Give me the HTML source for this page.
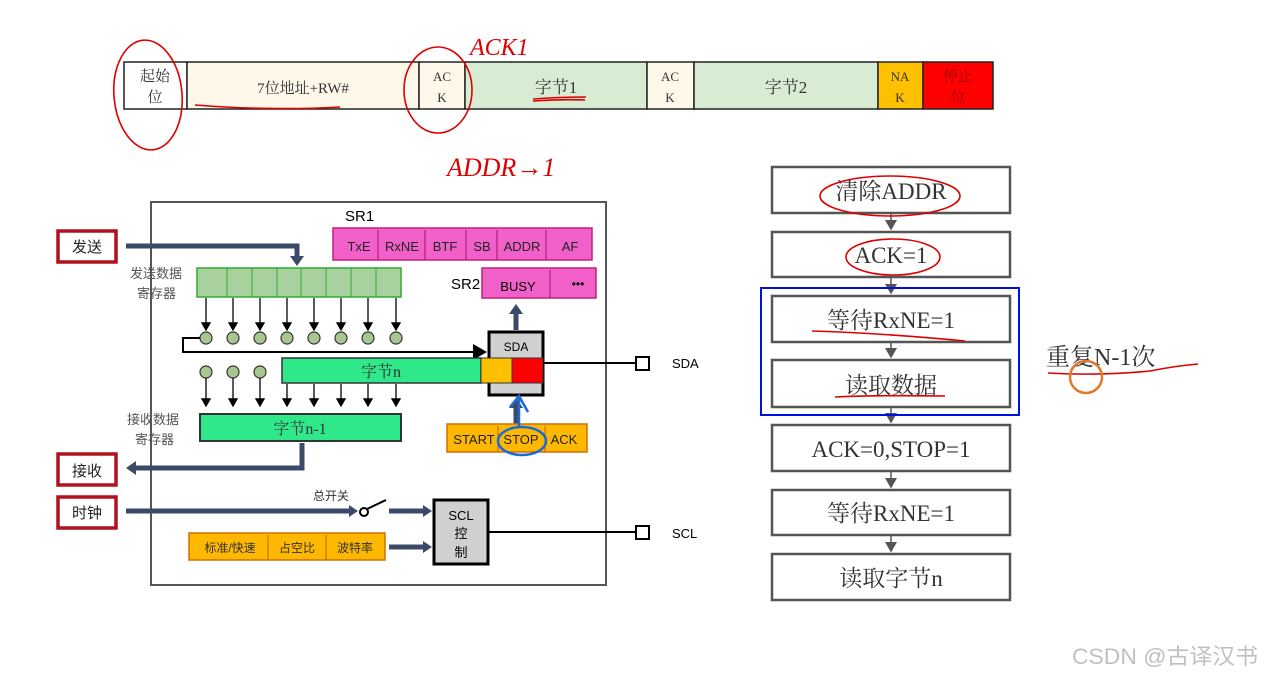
<!DOCTYPE html>
<html><head><meta charset="utf-8"><style>
html,body{margin:0;padding:0;background:#fff;}
svg{display:block}
text{font-family:"Liberation Serif","Noto Serif CJK SC",serif;}
.s, .s text, text.s{font-family:"Liberation Sans","Noto Sans CJK SC",sans-serif;}
</style></head><body>
<svg width="1264" height="676" viewBox="0 0 1264 676" xmlns="http://www.w3.org/2000/svg">
<defs>
<marker id="ab" markerWidth="8" markerHeight="8" refX="6" refY="4" orient="auto"><path d="M0,0 L7,4 L0,8z" fill="#000"/></marker>
<marker id="ag" markerWidth="8" markerHeight="8" refX="6" refY="4" orient="auto"><path d="M0,0 L7,4 L0,8z" fill="#555"/></marker>
</defs>
<g stroke="#222" stroke-width="1.5">
<rect x="124" y="62" width="63" height="47" fill="#fff"/>
<rect x="187" y="62" width="232" height="47" fill="#fdf8ea"/>
<rect x="419" y="62" width="46" height="47" fill="#fdf8ea"/>
<rect x="465" y="62" width="182" height="47" fill="#d8ebd3"/>
<rect x="647" y="62" width="47" height="47" fill="#fdf8ea"/>
<rect x="694" y="62" width="184" height="47" fill="#d8ebd3"/>
<rect x="878" y="62" width="45" height="47" fill="#ffc000"/>
<rect x="923" y="62" width="70" height="47" fill="#f00"/>
</g>
<g font-size="15" fill="#333" text-anchor="middle">
<text x="155" y="81">起始</text><text x="155" y="102">位</text>
<text x="303" y="93">7位地址+RW#</text>
<text x="442" y="81" font-size="13">AC</text><text x="442" y="102" font-size="13">K</text>
<text x="556" y="93" font-size="17">字节1</text>
<text x="670" y="81" font-size="13">AC</text><text x="670" y="102" font-size="13">K</text>
<text x="786" y="93" font-size="17">字节2</text>
<text x="900" y="81" font-size="13">NA</text><text x="900" y="102" font-size="13">K</text>
<text x="958" y="81" fill="#900">停止</text><text x="958" y="102" fill="#900">位</text>
</g>
<g fill="none" stroke="#d00" stroke-width="1.6">
<ellipse cx="148" cy="95" rx="34" ry="55" transform="rotate(-5 148 95)"/>
<ellipse cx="438" cy="90" rx="34" ry="43"/>
<path d="M195 105 Q270 111 340 107"/>
<path d="M533 99 Q560 97 586 97 M533 101 Q560 99 585 100"/>
</g>
<text x="470" y="55" font-size="24" fill="#d00" font-family="Liberation Sans,sans-serif" style="font-style:italic">ACK1</text>
<text x="447" y="176" font-size="26" fill="#d00" font-family="Liberation Sans,sans-serif" style="font-style:italic">ADDR→1</text>

<rect x="151" y="202" width="455" height="383" fill="none" stroke="#555" stroke-width="2"/>
<g stroke="#b01020" stroke-width="3.5" fill="#fff">
<rect x="58" y="231" width="58" height="31"/>
<rect x="58" y="454" width="58" height="31"/>
<rect x="58" y="497" width="58" height="31"/>
</g>
<g font-size="15" fill="#222" text-anchor="middle" class="s">
<text x="87" y="252">发送</text><text x="87" y="476">接收</text><text x="87" y="518">时钟</text>
</g>
<path d="M126 246 H297 V258" fill="none" stroke="#3a4a68" stroke-width="5"/>
<path d="M290 256 L297 266 L304 256z" fill="#3a4a68"/>
<text x="130" y="278" font-size="13" fill="#555" class="s">发送数据</text>
<text x="137" y="298" font-size="13" fill="#555" class="s">寄存器</text>
<rect x="197" y="268" width="204" height="29" fill="#a8d19e" stroke="#3a3" stroke-width="1.5"/>
<g stroke="#3a3" stroke-width="1"><line x1="227" y1="268" x2="227" y2="297"/><line x1="252" y1="268" x2="252" y2="297"/><line x1="277" y1="268" x2="277" y2="297"/><line x1="301" y1="268" x2="301" y2="297"/><line x1="326" y1="268" x2="326" y2="297"/><line x1="351" y1="268" x2="351" y2="297"/><line x1="376" y1="268" x2="376" y2="297"/></g>
<g stroke="#000" stroke-width="1.3" marker-end="url(#ab)">
<line x1="206" y1="298" x2="206" y2="330"/><line x1="233" y1="298" x2="233" y2="330"/><line x1="260" y1="298" x2="260" y2="330"/><line x1="287" y1="298" x2="287" y2="330"/><line x1="314" y1="298" x2="314" y2="330"/><line x1="341" y1="298" x2="341" y2="330"/><line x1="368" y1="298" x2="368" y2="330"/><line x1="396" y1="298" x2="396" y2="330"/>
</g>
<g fill="#a8c790" stroke="#333" stroke-width="1.2">
<circle cx="206" cy="338" r="6"/><circle cx="233" cy="338" r="6"/><circle cx="260" cy="338" r="6"/><circle cx="287" cy="338" r="6"/><circle cx="314" cy="338" r="6"/><circle cx="341" cy="338" r="6"/><circle cx="368" cy="338" r="6"/><circle cx="396" cy="338" r="6"/>
<circle cx="206" cy="372" r="6"/><circle cx="233" cy="372" r="6"/><circle cx="260" cy="372" r="6"/>
</g>
<path d="M200 338 H183 V352 H485" fill="none" stroke="#000" stroke-width="2" marker-end="url(#ab)"/>
<rect x="489" y="332" width="54" height="63" fill="#d0d0d0" stroke="#000" stroke-width="3"/>
<text x="516" y="351" font-size="12" text-anchor="middle" class="s">SDA</text>
<rect x="282" y="358" width="199" height="25" fill="#2ee88a" stroke="#333" stroke-width="1.5"/>
<rect x="481" y="358" width="31" height="25" fill="#ffc000" stroke="#333"/>
<rect x="512" y="358" width="31" height="25" fill="#f00" stroke="#333"/>
<text x="381" y="377" font-size="16" text-anchor="middle" fill="#333">字节n</text>
<g stroke="#000" stroke-width="1.3" marker-end="url(#ab)">
<line x1="206" y1="378" x2="206" y2="406"/><line x1="233" y1="378" x2="233" y2="406"/><line x1="260" y1="378" x2="260" y2="406"/><line x1="287" y1="384" x2="287" y2="406"/><line x1="314" y1="384" x2="314" y2="406"/><line x1="341" y1="384" x2="341" y2="406"/><line x1="368" y1="384" x2="368" y2="406"/><line x1="396" y1="384" x2="396" y2="406"/>
</g>
<text x="127" y="424" font-size="13" fill="#555" class="s">接收数据</text>
<text x="135" y="444" font-size="13" fill="#555" class="s">寄存器</text>
<rect x="200" y="414" width="201" height="27" fill="#2ee88a" stroke="#333" stroke-width="2"/>
<text x="300" y="434" font-size="16" text-anchor="middle" fill="#333">字节n-1</text>
<path d="M302 443 V468 H135" fill="none" stroke="#3a4a68" stroke-width="5"/>
<path d="M136 461 L126 468 L136 475z" fill="#3a4a68"/>
<text x="345" y="221" font-size="15" class="s">SR1</text>
<rect x="333" y="228" width="259" height="32" fill="#f060c8" stroke="#c02080" stroke-width="1.5"/>
<g stroke="#a01060"><line x1="378" y1="230" x2="378" y2="260"/><line x1="425" y1="230" x2="425" y2="260"/><line x1="466" y1="230" x2="466" y2="260"/><line x1="497" y1="230" x2="497" y2="260"/><line x1="546" y1="230" x2="546" y2="260"/></g>
<g font-size="13" fill="#222" text-anchor="middle" class="s">
<text x="359" y="251">TxE</text><text x="402" y="251">RxNE</text><text x="445" y="251">BTF</text><text x="482" y="251">SB</text><text x="522" y="251">ADDR</text><text x="570" y="251">AF</text>
</g>
<text x="451" y="289" font-size="15" class="s">SR2</text>
<rect x="482" y="268" width="114" height="30" fill="#f060c8" stroke="#c02080" stroke-width="1.5"/>
<line x1="550" y1="270" x2="550" y2="298" stroke="#a01060"/>
<text x="518" y="291" font-size="13" text-anchor="middle" class="s">BUSY</text>
<text x="578" y="288" font-size="12" text-anchor="middle" class="s">•••</text>
<path d="M516 330 V312" stroke="#3a4a68" stroke-width="5"/><path d="M509 314 L516 304 L523 314z" fill="#3a4a68"/>
<path d="M516 424 V406" stroke="#3a4a68" stroke-width="5"/><path d="M509 408 L516 398 L523 408z" fill="#3a4a68"/>
<rect x="447" y="424" width="140" height="28" fill="#ffb800" stroke="#d07000" stroke-width="1.5"/>
<g stroke="#c06000"><line x1="498" y1="426" x2="498" y2="452"/><line x1="545" y1="426" x2="545" y2="452"/></g>
<g font-size="13" fill="#222" text-anchor="middle" class="s"><text x="474" y="444">START</text><text x="521" y="444">STOP</text><text x="564" y="444">ACK</text></g>
<g fill="none" stroke="#1a6ad8" stroke-width="2.5">
<ellipse cx="522" cy="441" rx="24" ry="14"/>
<path d="M519 428 V395 M510 407 L519 396 L528 412"/>
</g>
<line x1="543" y1="363" x2="636" y2="363" stroke="#000" stroke-width="2"/>
<rect x="636" y="357" width="13" height="13" fill="#fff" stroke="#000" stroke-width="2"/>
<text x="672" y="368" font-size="13" class="s">SDA</text>
<rect x="434" y="500" width="54" height="64" fill="#d0d0d0" stroke="#000" stroke-width="3"/>
<g font-size="13" text-anchor="middle" class="s"><text x="461" y="520">SCL</text><text x="461" y="538">控</text><text x="461" y="557">制</text></g>
<line x1="488" y1="532" x2="636" y2="532" stroke="#000" stroke-width="2"/>
<rect x="636" y="526" width="13" height="13" fill="#fff" stroke="#000" stroke-width="2"/>
<text x="672" y="538" font-size="13" class="s">SCL</text>
<path d="M126 511 H350" stroke="#3a4a68" stroke-width="5"/><path d="M349 505 L358 511 L349 517z" fill="#3a4a68"/>
<circle cx="364" cy="512" r="4" fill="#fff" stroke="#000" stroke-width="2"/>
<line x1="367" y1="509" x2="386" y2="500" stroke="#000" stroke-width="2"/>
<text x="313" y="500" font-size="12" fill="#333" class="s">总开关</text>
<path d="M389 511 H424" stroke="#3a4a68" stroke-width="5"/><path d="M423 505 L432 511 L423 517z" fill="#3a4a68"/>
<path d="M389 547 H424" stroke="#3a4a68" stroke-width="5"/><path d="M423 541 L432 547 L423 553z" fill="#3a4a68"/>
<rect x="189" y="533" width="196" height="27" fill="#ffb800" stroke="#d07000" stroke-width="1.5"/>
<g stroke="#c06000"><line x1="268" y1="535" x2="268" y2="560"/><line x1="326" y1="535" x2="326" y2="560"/></g>
<g font-size="12" fill="#333" text-anchor="middle" class="s"><text x="230" y="552">标准/快速</text><text x="297" y="552">占空比</text><text x="355" y="552">波特率</text></g>

<g fill="#fff" stroke="#555" stroke-width="2.5">
<rect x="772" y="167" width="238" height="46"/>
<rect x="772" y="232" width="238" height="45"/>
<rect x="772" y="296" width="238" height="46"/>
<rect x="772" y="360" width="238" height="47"/>
<rect x="772" y="425" width="238" height="46"/>
<rect x="772" y="490" width="238" height="45"/>
<rect x="772" y="554" width="238" height="46"/>
</g>
<g stroke="#555" stroke-width="1.5" marker-end="url(#ag)">
<line x1="891" y1="214" x2="891" y2="229"/><line x1="891" y1="278" x2="891" y2="293"/><line x1="891" y1="343" x2="891" y2="357"/><line x1="891" y1="408" x2="891" y2="422"/><line x1="891" y1="472" x2="891" y2="487"/><line x1="891" y1="536" x2="891" y2="551"/>
</g>
<rect x="761" y="288" width="258" height="127" fill="none" stroke="#0010e0" stroke-width="2"/>
<g font-size="23" fill="#333" text-anchor="middle">
<text x="891" y="199">清除ADDR</text>
<text x="891" y="263">ACK=1</text>
<text x="891" y="328">等待RxNE=1</text>
<text x="891" y="393">读取数据</text>
<text x="891" y="457">ACK=0,STOP=1</text>
<text x="891" y="521">等待RxNE=1</text>
<text x="891" y="586">读取字节n</text>
</g>
<text x="1046" y="365" font-size="24" fill="#333">重复N-1次</text>
<g fill="none" stroke="#d00" stroke-width="1.6">
<ellipse cx="890" cy="196" rx="70" ry="20"/>
<ellipse cx="893" cy="257" rx="47" ry="18"/>
<path d="M812 331 Q880 333 965 341"/>
<path d="M835 397 Q880 395 945 396"/>
<path d="M1048 373 Q1100 376 1150 371 Q1175 366 1198 364"/>
</g>
<circle cx="1086" cy="377" r="16" fill="none" stroke="#e07830" stroke-width="2.5"/>
<text x="1072" y="664" font-size="22" fill="#c0c0c0" class="s" textLength="186" lengthAdjust="spacingAndGlyphs">CSDN @古译汉书</text>
</svg>
</body></html>
